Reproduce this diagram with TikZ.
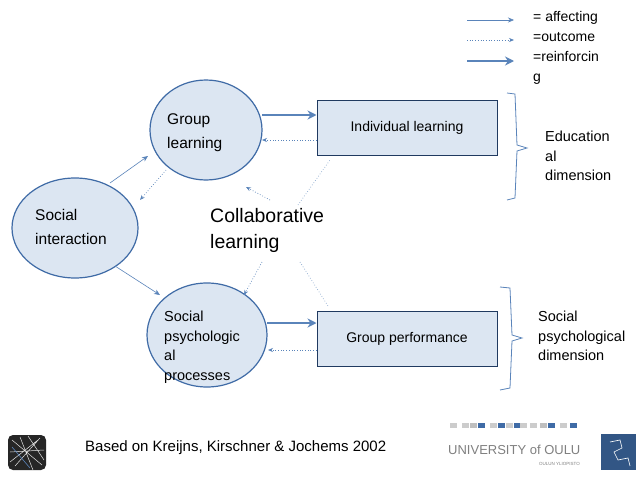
\documentclass[tikz,border=0pt]{standalone}
\usepackage{fontspec}
\setmainfont{Liberation Sans}
\usetikzlibrary{shapes.geometric,arrows.meta}
\definecolor{efill}{HTML}{DCE6F2}
\definecolor{eline}{HTML}{3F6BA6}
\definecolor{aline}{HTML}{5A84BA}
\definecolor{bline}{HTML}{203A60}
\tikzset{
 ell/.style={ellipse,draw=eline,fill=efill,line width=1.2pt},
 bx/.style={draw=bline,fill=efill,line width=1pt,minimum width=180pt,minimum height=55pt,font=\fontsize{14}{16}\selectfont},
 aff/.style={draw=aline,line width=0.6pt,-{Stealth[length=6pt,width=5pt]}},
 outc/.style={draw=aline,line width=0.7pt,dotted,-{Stealth[length=5pt,width=4pt]}},
 rein/.style={draw=aline,line width=2.2pt,-{Stealth[length=9pt,width=9pt]}},
 dl/.style={draw=aline!70,line width=0.7pt,dotted},
 lbl/.style={align=left,anchor=north west,font=\fontsize{15.5}{24}\selectfont,inner sep=0pt},
 brace/.style={draw=aline,line width=0.8pt}
}
\begin{document}
\begin{tikzpicture}[x=1pt,y=-1pt]
\useasboundingbox (0,0) rectangle (638,479);
\fill[white] (0,0) rectangle (638,479);
\node[ell,minimum width=112pt,minimum height=100pt] (gl) at (206,130) {};
\node[lbl] at (167,113) {Group\\learning};
\node[ell,minimum width=126pt,minimum height=100pt] (si) at (75,228) {};
\node[lbl] at (35,209) {Social\\interaction};
\node[ell,minimum width=120pt,minimum height=104pt] (spp) at (207,335) {};
\node[lbl,font=\fontsize{14.5}{19.5}\selectfont] at (164,311) {Social\\psychologic\\al\\processes};
\node[bx] (il) at (407,128) {Individual learning};
\node[bx] (gp) at (407,339) {Group performance};
\node[lbl,font=\fontsize{19.5}{26}\selectfont] (cl) at (210,208) {Collaborative\\learning};
\coordinate (gla) at (262,115); \coordinate (glb) at (262,140);
\draw[rein] (gla) -- (il.west|-gla);
\draw[outc] (il.west|-glb) -- (glb);
\coordinate (spa) at (267,323); \coordinate (spb) at (268,350);
\draw[rein] (spa) -- (gp.west|-spa);
\draw[outc] (gp.west|-spb) -- (spb);
\coordinate (s1) at (110,183); \coordinate (g1) at (148,156);
\draw[aff] (s1) -- (g1);
\coordinate (g2) at (166,170); \coordinate (s2) at (140,200);
\draw[outc] (g2) -- (s2);
\coordinate (s3) at (115,266); \coordinate (p1) at (160,295);
\draw[aff] (s3) -- (p1);
\coordinate (c1) at (270,200); \coordinate (g3) at (246,187);
\draw[outc] (c1) -- (g3);
\coordinate (c2) at (262,262); \coordinate (p2) at (244,295);
\draw[outc] (c2) -- (p2);
\coordinate (c3) at (298,205); \coordinate (i1) at (330,160);
\draw[dl] (c3) -- (i1);
\coordinate (c4) at (300,262); \coordinate (q1) at (328,306);
\draw[dl] (c4) -- (q1);
% braces
\draw[brace] (507,93) -- (515,94) -- (517,145) -- (527,148) -- (517,151) -- (515,198) -- (507,200);
\draw[brace] (500,287) -- (510,288) -- (512,335) -- (522,338) -- (512,341) -- (510,388) -- (500,390);
\node[lbl,font=\fontsize{14.5}{19.5}\selectfont] at (545,131) {Education\\al\\dimension};
\node[lbl,font=\fontsize{14.5}{19.5}\selectfont] at (538,311) {Social\\psychological\\dimension};
% legend
\coordinate (l1a) at (467,20); \coordinate (l1b) at (514,20);
\coordinate (l2a) at (467,40); \coordinate (l2b) at (514,40);
\coordinate (l3a) at (467,61); \coordinate (l3b) at (514,61);
\draw[aff] (l1a) -- (l1b);
\draw[outc] (l2a) -- (l2b);
\draw[rein] (l3a) -- (l3b);
\node[lbl,font=\fontsize{14}{20}\selectfont] at (533,11) {= affecting\\=outcome\\=reinforcin\\g};
% bottom
\node[lbl,font=\fontsize{15}{18}\selectfont] at (85,440) {Based on Kreijns, Kirschner \& Jochems 2002};
\fill[black!85,rounded corners=5pt] (8,435) rectangle (46,470);
\draw[white!80!gray,line width=0.5pt] (12,440)--(42,465) (15,466)--(40,438) (10,452)--(44,450) (20,437)--(33,470) (10,462)--(38,440) (28,436)--(44,460);
\draw[aline,line width=0.6pt] (12,447)--(30,468);
\foreach \x/\c in {450/gray!40,462/gray!40,470/gray!50,478/eline,490/gray!40,498/eline,506/gray!40,514/eline,520/gray!40,530/gray!40,540/gray!50,548/eline,560/gray!40,570/eline}
  \fill[\c] (\x,423) rectangle ++(7,5);
\node[anchor=west,inner sep=0pt,font=\fontsize{13}{14}\selectfont,text=gray] at (448,450) {UNIVERSITY of OULU};
\node[anchor=east,inner sep=0pt,font=\fontsize{4.5}{5}\selectfont,text=gray] at (580,464) {OULUN YLIOPISTO};
\fill[eline!80!black] (601,434) rectangle (636,470);
\draw[white,line width=0.6pt] (610,442)--(620,440)--(622,448)--(614,452)--(618,460)--(628,458)--(630,466);
\end{tikzpicture}
\end{document}
